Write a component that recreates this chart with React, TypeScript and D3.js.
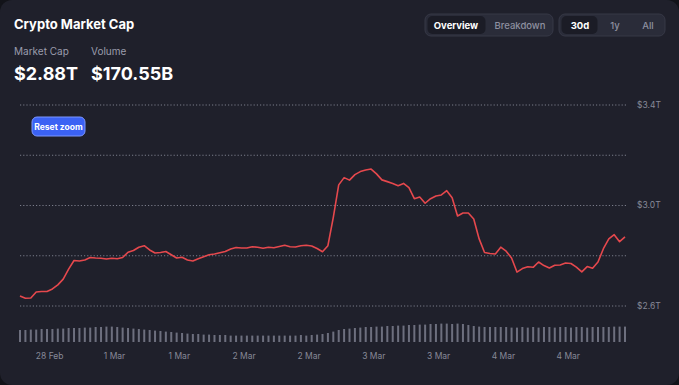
import React from 'react';
import * as d3 from 'd3';

// hourly market cap, in trillions of USD
const capValues = [
  2.640, 2.631, 2.632, 2.656, 2.658, 2.658, 2.668, 2.684, 2.707, 2.747,
  2.781, 2.779, 2.783, 2.793, 2.791, 2.790, 2.787, 2.790, 2.788, 2.793,
  2.814, 2.821, 2.834, 2.840, 2.823, 2.811, 2.813, 2.817, 2.804, 2.791,
  2.794, 2.783, 2.779, 2.788, 2.796, 2.804, 2.807, 2.812, 2.817, 2.827,
  2.833, 2.831, 2.831, 2.836, 2.834, 2.830, 2.834, 2.832, 2.837, 2.842,
  2.836, 2.835, 2.840, 2.842, 2.839, 2.829, 2.816, 2.840, 2.953, 3.082,
  3.111, 3.101, 3.123, 3.135, 3.141, 3.145, 3.126, 3.102, 3.095, 3.088,
  3.079, 3.088, 3.071, 3.027, 3.034, 3.009, 3.027, 3.038, 3.042, 3.059,
  3.031, 2.958, 2.970, 2.970, 2.946, 2.867, 2.813, 2.809, 2.807, 2.834,
  2.818, 2.791, 2.735, 2.749, 2.756, 2.754, 2.775, 2.761, 2.751, 2.762,
  2.763, 2.771, 2.769, 2.755, 2.736, 2.757, 2.750, 2.775, 2.828, 2.867,
  2.884, 2.856, 2.875,
];

// hourly volume, in billions of USD
const volumeValues = [
  6.0, 6.0, 6.2, 6.2, 6.5, 6.5, 6.5, 6.7, 6.7, 7.0,
  7.0, 7.0, 7.2, 7.2, 7.5, 7.5, 7.7, 7.7, 7.5, 7.2,
  7.0, 6.7, 6.5, 6.2, 6.0, 5.7, 5.5, 5.2, 5.0, 4.7,
  4.5, 4.2, 4.0, 4.0, 3.7, 3.7, 3.5, 3.5, 3.5, 3.2,
  3.2, 3.2, 3.2, 3.2, 3.2, 3.2, 3.2, 3.2, 3.2, 3.2,
  3.2, 3.2, 3.5, 3.2, 3.5, 3.7, 4.0, 4.5, 5.2, 6.0,
  6.5, 6.7, 7.0, 7.2, 7.5, 7.5, 7.7, 7.7, 8.0, 8.0,
  8.2, 8.2, 8.5, 8.5, 8.7, 8.7, 9.0, 9.0, 9.2, 9.2,
  9.0, 9.2, 9.0, 8.5, 8.0, 7.7, 7.5, 7.5, 7.5, 7.5,
  7.5, 7.2, 7.2, 7.5, 7.2, 7.5, 7.2, 7.5, 7.5, 7.2,
  7.5, 7.5, 7.2, 7.5, 7.5, 7.2, 7.5, 7.5, 7.5, 7.5,
  7.7, 7.7, 7.7,
];

const startTime = Date.UTC(2025, 1, 28, 6, 30);
const hours = capValues.map((_, i) => new Date(startTime + i * 3600 * 1000));

const gridTicks = [2.6, 2.8, 3.0, 3.2, 3.4];
const labeledTicks = [2.6, 3.0, 3.4];

const viewTabs = ['Overview', 'Breakdown'];
const rangeTabs = ['30d', '1y', 'All'];

const W = 679;
const H = 385;
const FONT = 'Inter, "Noto Sans", sans-serif';

const App: React.FC = () => {
  const x = d3.scaleTime()
    .domain([hours[0], hours[hours.length - 1]])
    .range([20, 625]);
  const y = d3.scaleLinear().domain([2.6, 3.4]).range([306, 105]);
  const yVol = d3.scaleLinear().domain([0, 10]).range([342, 322]);

  const line = d3.line<number>()
    .x((_, i) => x(hours[i]))
    .y(d => y(d));

  const xTicks = d3.utcHour.every(12)!.range(hours[0], hours[hours.length - 1]);
  const fmt = d3.utcFormat('%-d %b');

  return (
    <div style={{ position: 'fixed', left: 0, top: 0, width: W, height: H, background: '#121319' }}>
      <svg width={W} height={H} style={{ display: 'block', fontFamily: FONT }}>
        <rect x={0} y={0} width={W} height={H} rx={12} fill="#1f202b" />

        <text x={14} y={28.5} fill="#ffffff" fontSize={13} fontWeight={700}>Crypto Market Cap</text>
        <text x={14} y={55} fill="#9a9cab" fontSize={10}>Market Cap</text>
        <text x={91} y={55} fill="#9a9cab" fontSize={10}>Volume</text>
        <text x={14} y={80} fill="#ffffff" fontSize={18} fontWeight={700}>$2.88T</text>
        <text x={91} y={80} fill="#ffffff" fontSize={18} fontWeight={700}>$170.55B</text>

        {/* view toggle */}
        <rect x={425} y={14} width={128} height={22} rx={6} fill="#2a2c39" stroke="#363846" />
        <rect x={427.5} y={16} width={58} height={18} rx={5} fill="#1b1c26" />
        {viewTabs.map((t, i) => (
          <text key={t} x={[456, 520][i]} y={28.5} textAnchor="middle" fontSize={9.5}
            fontWeight={i === 0 ? 700 : 500} fill={i === 0 ? '#ffffff' : '#8e90a0'}>{t}</text>
        ))}

        {/* range toggle */}
        <rect x={559} y={14} width={106} height={22} rx={6} fill="#2a2c39" stroke="#363846" />
        <rect x={561.5} y={16} width={36} height={18} rx={5} fill="#1b1c26" />
        {rangeTabs.map((t, i) => (
          <text key={t} x={[580, 615, 648][i]} y={28.5} textAnchor="middle" fontSize={9.5}
            fontWeight={i === 0 ? 700 : 500} fill={i === 0 ? '#ffffff' : '#8e90a0'}>{t}</text>
        ))}

        {/* grid */}
        {gridTicks.map(t => (
          <line key={t} x1={20} x2={627} y1={y(t)} y2={y(t)} stroke="#7a7c8a"
            strokeWidth={1} strokeDasharray="1.2 2" />
        ))}
        {labeledTicks.map(t => (
          <text key={t} x={637} y={y(t)} dy="0.35em" fontSize={8.5} fill="#878997">
            ${t.toFixed(1)}T
          </text>
        ))}

        {/* volume bars */}
        {volumeValues.map((v, i) => (
          <rect key={i} x={x(hours[i]) - 1} y={yVol(v)} width={2} height={342 - yVol(v)} fill="#6d6f7e" />
        ))}

        <path d={line(capValues) ?? ''} fill="none" stroke="#e5484d" strokeWidth={1.6}
          strokeLinejoin="round" />

        {/* x axis labels */}
        {xTicks.map(t => (
          <text key={t.getTime()} x={x(t)} y={359} textAnchor="middle" fontSize={8.5} fill="#878997">
            {fmt(t)}
          </text>
        ))}

        {/* reset zoom button */}
        <rect x={32} y={117} width={53} height={19} rx={5} fill="#3b62f4" stroke="#7d96ff" strokeWidth={1} />
        <text x={58.5} y={129.5} textAnchor="middle" fontSize={8.5} fontWeight={700} fill="#ffffff">Reset zoom</text>
      </svg>
    </div>
  );
};

export default App;
